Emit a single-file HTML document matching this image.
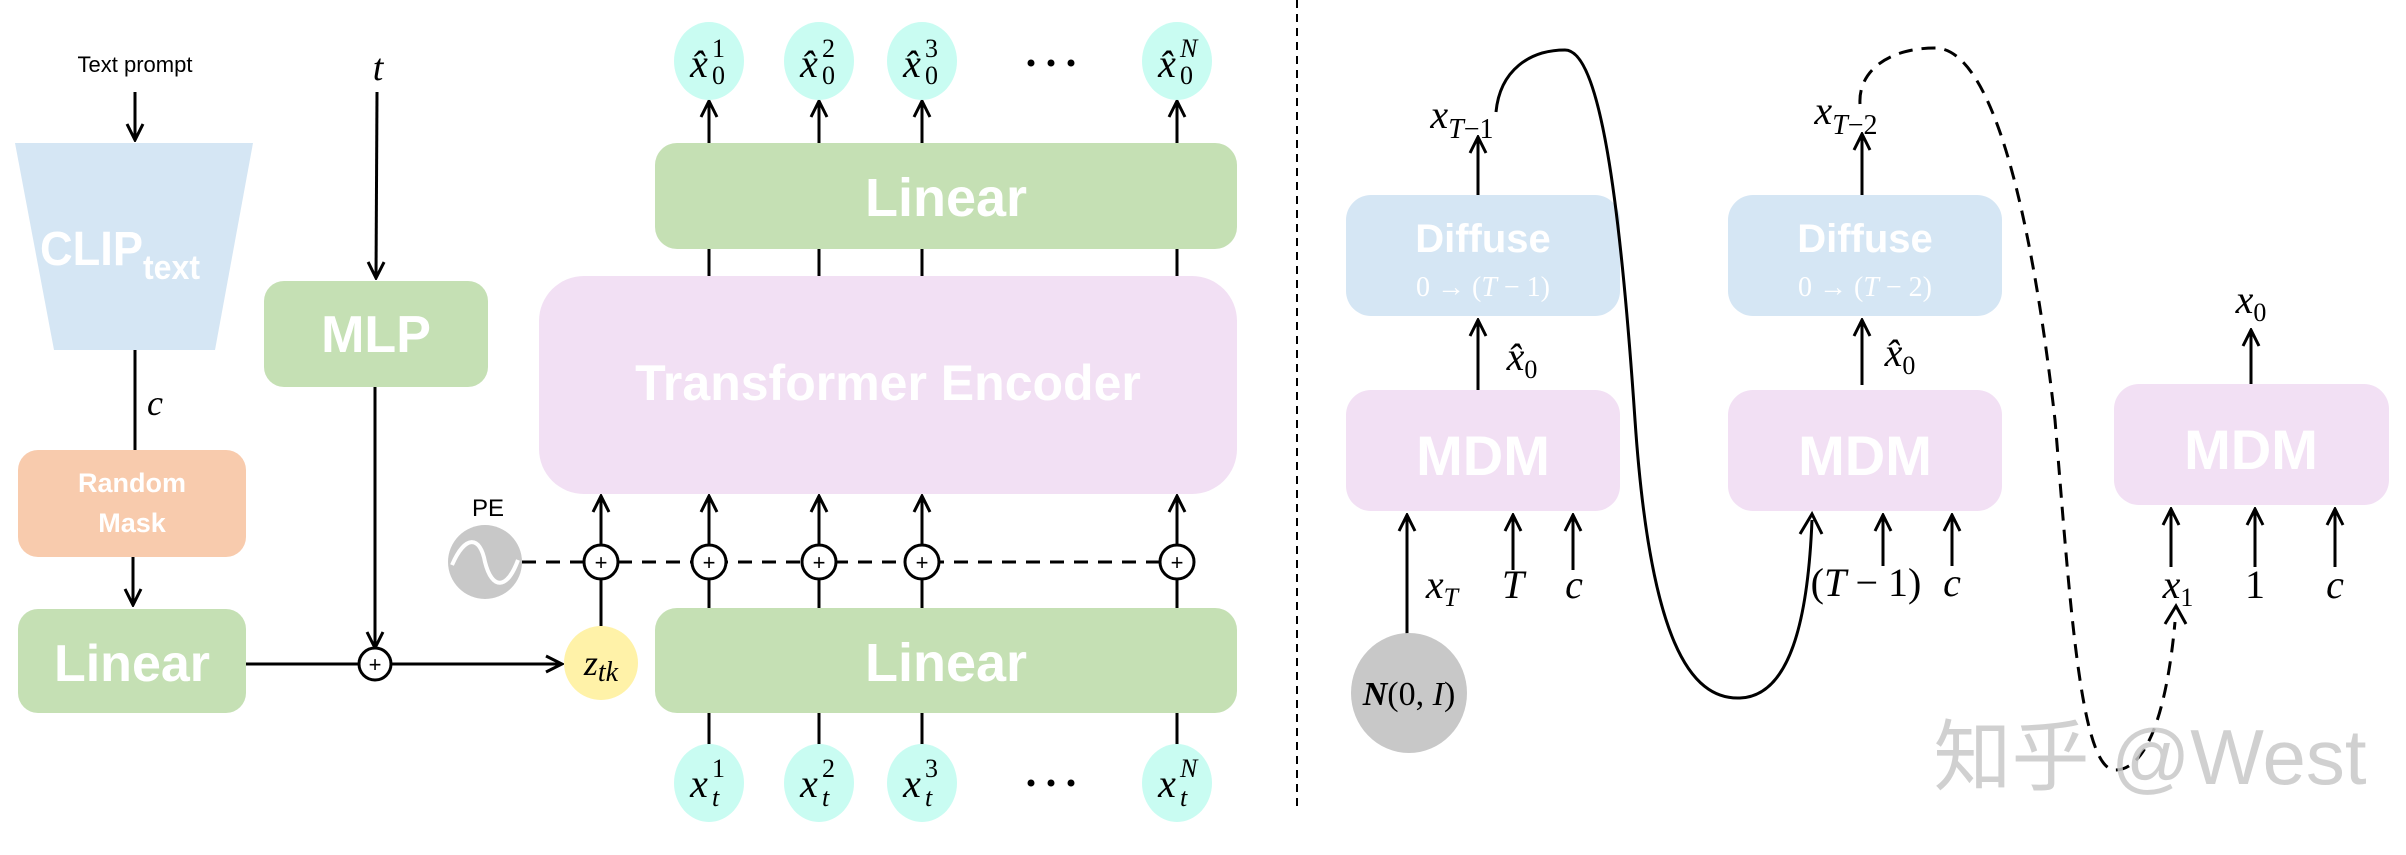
<!DOCTYPE html>
<html><head><meta charset="utf-8"><style>
html,body{margin:0;padding:0;background:#fff;}
svg{display:block;}
.bl{font-family:"Liberation Sans",sans-serif;font-weight:bold;fill:#fff;text-anchor:middle;}
.m{font-family:"Liberation Serif",serif;font-style:italic;fill:#000;text-anchor:middle;}
.s{font-family:"Liberation Serif",serif;fill:#000;font-size:26px;}
.ln{stroke:#000;stroke-width:3;fill:none;}
</style></head><body>
<svg width="2406" height="855" viewBox="0 0 2406 855" xmlns="http://www.w3.org/2000/svg">
<defs>
<marker id="a" viewBox="0 0 20 20" refX="18" refY="10" markerWidth="20" markerHeight="20" markerUnits="userSpaceOnUse" orient="auto">
<polyline points="2,2 18,10 2,18" fill="none" stroke="#000" stroke-width="3"/></marker>
</defs>
<text x="135" y="72" font-family="Liberation Sans" font-size="22" text-anchor="middle">Text prompt</text>
<line class="ln" x1="135" y1="92" x2="135" y2="140" marker-end="url(#a)"/>
<polygon points="15,143 253,143 215,350 54,350" fill="#d5e6f4"/>
<text class="bl" x="120" y="265" font-size="48" textLength="160" lengthAdjust="spacingAndGlyphs">CLIP<tspan font-size="34" dy="14">text</tspan></text>
<line class="ln" x1="135" y1="350" x2="135" y2="450"/>
<text class="m" x="155" y="415" font-size="36">c</text>
<rect x="18" y="450" width="228" height="107" rx="20" fill="#f8cbad"/>
<text class="bl" x="132" y="492" font-size="27">Random</text>
<text class="bl" x="132" y="532" font-size="27">Mask</text>
<line class="ln" x1="133" y1="557" x2="133" y2="605" marker-end="url(#a)"/>
<rect x="18" y="609" width="228" height="104" rx="20" fill="#c5e0b4"/>
<text class="bl" x="132" y="681" font-size="52">Linear</text>
<text class="m" x="378" y="80" font-size="38">t</text>
<line class="ln" x1="377" y1="92" x2="376" y2="278" marker-end="url(#a)"/>
<rect x="264" y="281" width="224" height="106" rx="20" fill="#c5e0b4"/>
<text class="bl" x="376" y="352" font-size="52">MLP</text>
<line class="ln" x1="375" y1="387" x2="375" y2="648" marker-end="url(#a)"/>
<line class="ln" x1="246" y1="664" x2="562" y2="664" marker-end="url(#a)"/>
<circle cx="375" cy="664" r="16" fill="#fff" stroke="#000" stroke-width="3"/>
<text x="375" y="672" font-family="Liberation Sans" font-size="22" text-anchor="middle">+</text>
<circle cx="601" cy="663" r="37" fill="#fff2a8"/>
<text class="m" x="601" y="675" font-size="36">z<tspan font-size="28" dy="6">tk</tspan></text>
<line class="ln" x1="601" y1="626" x2="601" y2="580"/>
<text x="488" y="516" font-family="Liberation Sans" font-size="24" text-anchor="middle">PE</text>
<circle cx="485" cy="562" r="37" fill="#c8c8c8"/>
<path d="M452,565 C465,535 480,535 485,562 C492,590 507,590 518,560" stroke="#fff" stroke-width="4" fill="none"/>
<line x1="522" y1="562" x2="1160" y2="562" stroke="#000" stroke-width="3" stroke-dasharray="14,10"/>
<rect x="539" y="276" width="698" height="218" rx="45" fill="#f2e0f4"/>
<text class="bl" x="888" y="400" font-size="50">Transformer Encoder</text>
<rect x="655" y="143" width="582" height="106" rx="22" fill="#c5e0b4"/>
<text class="bl" x="946" y="216" font-size="54">Linear</text>
<rect x="655" y="608" width="582" height="105" rx="22" fill="#c5e0b4"/>
<text class="bl" x="946" y="681" font-size="54">Linear</text>
<line class="ln" x1="601" y1="545" x2="601" y2="496" marker-end="url(#a)"/>
<circle cx="601" cy="562" r="17" fill="#fff" stroke="#000" stroke-width="3"/>
<text x="601" y="570" font-family="Liberation Sans" font-size="22" text-anchor="middle">+</text>
<g>
<line class="ln" x1="709" y1="608" x2="709" y2="496" marker-end="url(#a)"/>
<line class="ln" x1="819" y1="608" x2="819" y2="496" marker-end="url(#a)"/>
<line class="ln" x1="922" y1="608" x2="922" y2="496" marker-end="url(#a)"/>
<line class="ln" x1="1177" y1="608" x2="1177" y2="496" marker-end="url(#a)"/>
<circle cx="709" cy="562" r="17" fill="#fff" stroke="#000" stroke-width="3"/>
<circle cx="819" cy="562" r="17" fill="#fff" stroke="#000" stroke-width="3"/>
<circle cx="922" cy="562" r="17" fill="#fff" stroke="#000" stroke-width="3"/>
<circle cx="1177" cy="562" r="17" fill="#fff" stroke="#000" stroke-width="3"/>
<g font-family="Liberation Sans" font-size="22" text-anchor="middle">
<text x="709" y="570">+</text><text x="819" y="570">+</text><text x="922" y="570">+</text><text x="1177" y="570">+</text></g>
<line class="ln" x1="709" y1="276" x2="709" y2="249"/>
<line class="ln" x1="819" y1="276" x2="819" y2="249"/>
<line class="ln" x1="922" y1="276" x2="922" y2="249"/>
<line class="ln" x1="1177" y1="276" x2="1177" y2="249"/>
<line class="ln" x1="709" y1="143" x2="709" y2="101" marker-end="url(#a)"/>
<line class="ln" x1="819" y1="143" x2="819" y2="101" marker-end="url(#a)"/>
<line class="ln" x1="922" y1="143" x2="922" y2="101" marker-end="url(#a)"/>
<line class="ln" x1="1177" y1="143" x2="1177" y2="101" marker-end="url(#a)"/>
<line class="ln" x1="709" y1="713" x2="709" y2="745"/>
<line class="ln" x1="819" y1="713" x2="819" y2="745"/>
<line class="ln" x1="922" y1="713" x2="922" y2="745"/>
<line class="ln" x1="1177" y1="713" x2="1177" y2="745"/>
</g>
<g fill="#c9fcf2">
<ellipse cx="709" cy="61" rx="35" ry="39"/><ellipse cx="819" cy="61" rx="35" ry="39"/><ellipse cx="922" cy="61" rx="35" ry="39"/><ellipse cx="1177" cy="61" rx="35" ry="39"/>
<ellipse cx="709" cy="783" rx="35" ry="39"/><ellipse cx="819" cy="783" rx="35" ry="39"/><ellipse cx="922" cy="783" rx="35" ry="39"/><ellipse cx="1177" cy="783" rx="35" ry="39"/>
</g>
<g class="m" font-size="40">
<text x="699" y="77">x̂</text><text x="809" y="77">x̂</text><text x="912" y="77">x̂</text><text x="1167" y="77">x̂</text>
<text x="699" y="797">x</text><text x="809" y="797">x</text><text x="912" y="797">x</text><text x="1167" y="797">x</text>
</g>
<g class="s">
<text x="712" y="57">1</text><text x="712" y="84">0</text>
<text x="822" y="57">2</text><text x="822" y="84">0</text>
<text x="925" y="57">3</text><text x="925" y="84">0</text>
<text x="1180" y="57" font-style="italic">N</text><text x="1180" y="84">0</text>
<text x="712" y="777">1</text><text x="712" y="806" font-style="italic">t</text>
<text x="822" y="777">2</text><text x="822" y="806" font-style="italic">t</text>
<text x="925" y="777">3</text><text x="925" y="806" font-style="italic">t</text>
<text x="1180" y="777" font-style="italic">N</text><text x="1180" y="806" font-style="italic">t</text>
</g>
<g fill="#000"><circle cx="1031" cy="63" r="3.5"/><circle cx="1051" cy="63" r="3.5"/><circle cx="1071" cy="63" r="3.5"/>
<circle cx="1031" cy="783" r="3.5"/><circle cx="1051" cy="783" r="3.5"/><circle cx="1071" cy="783" r="3.5"/></g>
<line x1="1297" y1="0" x2="1297" y2="808" stroke="#000" stroke-width="2" stroke-dasharray="8,6"/>
<rect x="1346" y="195" width="274" height="121" rx="25" fill="#d5e6f4"/>
<text class="bl" x="1483" y="252" font-size="40">Diffuse</text>
<text x="1483" y="296" font-family="Liberation Serif" font-size="28" fill="#fff" text-anchor="middle">0 → (<tspan font-style="italic">T</tspan> − 1)</text>
<rect x="1346" y="390" width="274" height="121" rx="25" fill="#f2e0f4"/>
<text class="bl" x="1483" y="475" font-size="56">MDM</text>
<rect x="1728" y="195" width="274" height="121" rx="25" fill="#d5e6f4"/>
<text class="bl" x="1865" y="252" font-size="40">Diffuse</text>
<text x="1865" y="296" font-family="Liberation Serif" font-size="28" fill="#fff" text-anchor="middle">0 → (<tspan font-style="italic">T</tspan> − 2)</text>
<rect x="1728" y="390" width="274" height="121" rx="25" fill="#f2e0f4"/>
<text class="bl" x="1865" y="475" font-size="56">MDM</text>
<rect x="2114" y="384" width="275" height="121" rx="25" fill="#f2e0f4"/>
<text class="bl" x="2251" y="469" font-size="56">MDM</text>
<line class="ln" x1="1478" y1="195" x2="1478" y2="137" marker-end="url(#a)"/>
<line class="ln" x1="1478" y1="390" x2="1478" y2="320" marker-end="url(#a)"/>
<line class="ln" x1="1862" y1="195" x2="1862" y2="134" marker-end="url(#a)"/>
<line class="ln" x1="1862" y1="385" x2="1862" y2="320" marker-end="url(#a)"/>
<line class="ln" x1="2251" y1="384" x2="2251" y2="330" marker-end="url(#a)"/>
<line class="ln" x1="1407" y1="634" x2="1407" y2="515" marker-end="url(#a)"/>
<line class="ln" x1="1513" y1="570" x2="1513" y2="515" marker-end="url(#a)"/>
<line class="ln" x1="1573" y1="570" x2="1573" y2="515" marker-end="url(#a)"/>
<line class="ln" x1="1883" y1="566" x2="1883" y2="515" marker-end="url(#a)"/>
<line class="ln" x1="1952" y1="566" x2="1952" y2="515" marker-end="url(#a)"/>
<line class="ln" x1="2171" y1="567" x2="2171" y2="509" marker-end="url(#a)"/>
<line class="ln" x1="2255" y1="567" x2="2255" y2="509" marker-end="url(#a)"/>
<line class="ln" x1="2335" y1="567" x2="2335" y2="509" marker-end="url(#a)"/>
<g class="m" font-size="40">
<text x="1462" y="128">x<tspan font-size="28" dy="10">T</tspan><tspan font-size="28" font-style="normal">−1</tspan></text>
<text x="1846" y="124">x<tspan font-size="28" dy="10">T</tspan><tspan font-size="28" font-style="normal">−2</tspan></text>
<text x="1522" y="370">x̂<tspan font-size="26" font-style="normal" dy="8">0</tspan></text>
<text x="1900" y="366">x̂<tspan font-size="26" font-style="normal" dy="8">0</tspan></text>
<text x="2251" y="313">x<tspan font-size="26" font-style="normal" dy="8">0</tspan></text>
<text x="1442" y="598">x<tspan font-size="26" dy="8">T</tspan></text>
<text x="1513" y="598">T</text>
<text x="1574" y="598">c</text>
<text x="1866" y="596"><tspan font-style="normal">(</tspan>T <tspan font-style="normal">− 1)</tspan></text>
<text x="1952" y="596">c</text>
<text x="2178" y="598">x<tspan font-size="26" font-style="normal" dy="8">1</tspan></text>
<text x="2255" y="598" font-style="normal">1</text>
<text x="2335" y="598">c</text>
</g>
<ellipse cx="1409" cy="693" rx="58" ry="60" fill="#c8c8c8"/>
<text x="1409" y="705" font-family="Liberation Serif" font-size="34" text-anchor="middle"><tspan font-weight="bold" font-style="italic">N</tspan>(0, <tspan font-style="italic">I</tspan>)</text>
<path d="M1496,112 C1500,70 1530,50 1565,50 C1600,50 1620,200 1635,420 C1650,640 1690,700 1740,698 C1790,696 1808,620 1812,520" class="ln"/>
<polyline points="1800,534 1812,514 1822,534" class="ln"/>
<path d="M1860,104 C1858,70 1890,48 1935,48 C1990,48 2030,200 2055,420 C2070,600 2080,770 2115,770 C2150,770 2168,700 2175,622" fill="none" stroke="#000" stroke-width="3" stroke-dasharray="14,9"/>
<polyline points="2165,624 2176,606 2186,624" class="ln"/>
<text x="2150" y="784" font-family="Liberation Sans,'Noto Sans CJK SC',sans-serif" font-size="78" fill="#c8c8c8" fill-opacity="0.85" text-anchor="middle">知乎 @West</text>
</svg>
</body></html>
